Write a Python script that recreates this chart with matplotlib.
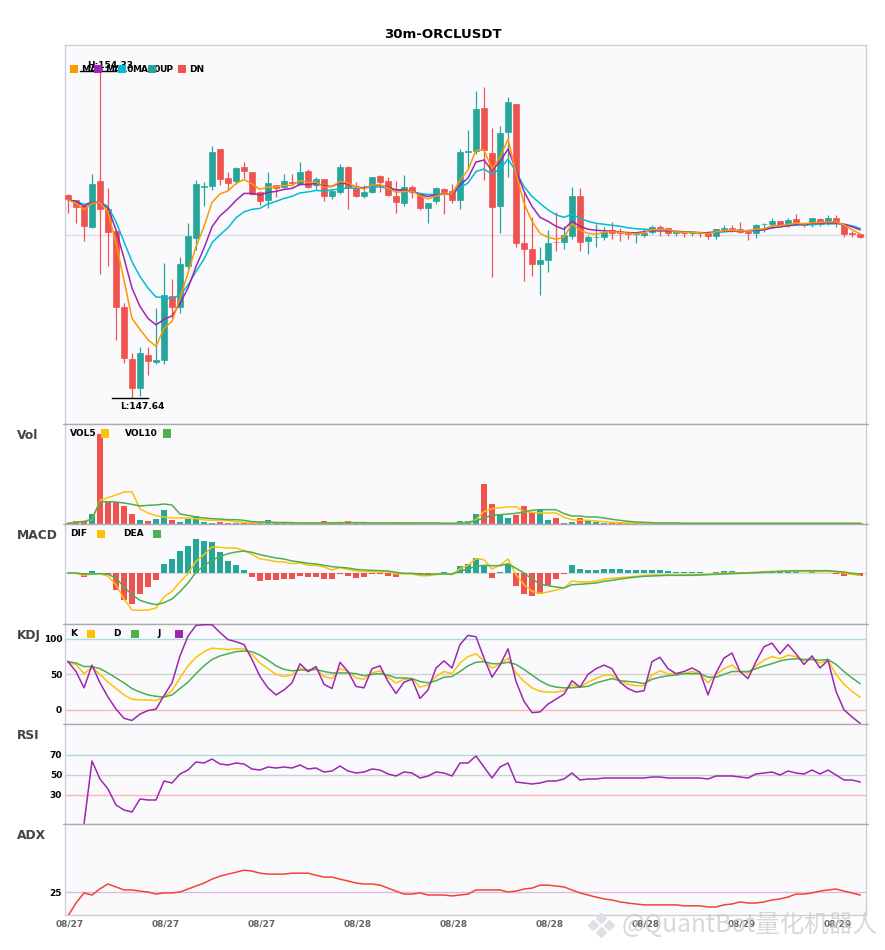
import matplotlib
matplotlib.use('Agg')
import matplotlib.pyplot as plt
from matplotlib.patches import Rectangle
from matplotlib.lines import Line2D
from matplotlib.transforms import ScaledTranslation

# candles
opens = [151.72,151.62,151.49,151.08,152.00,151.44,151.00,149.47,148.43,147.85,
         148.51,148.37,148.41,149.69,149.47,150.29,150.86,151.88,151.90,152.64,
         152.06,152.00,152.28,152.18,151.78,151.62,151.92,151.88,151.98,151.94,
         152.20,151.92,152.04,151.70,151.78,152.28,151.86,151.70,151.78,152.10,
         152.00,151.70,151.56,151.88,151.74,151.46,151.60,151.84,151.80,151.62,
         152.59,152.60,153.47,152.56,151.50,152.99,153.55,150.76,150.64,150.34,
         150.42,150.78,150.78,150.90,151.70,150.80,150.87,150.88,151.02,150.98,
         150.95,150.94,150.92,150.98,151.08,151.06,150.95,150.98,150.96,150.97,
         150.96,150.90,151.03,151.05,151.04,150.98,150.96,151.13,151.14,151.20,
         151.12,151.24,151.16,151.14,151.24,151.18,151.26,151.14,150.95,150.94]
closes = [151.64,151.47,151.10,151.94,151.44,150.98,149.47,148.45,147.85,148.55,
          148.39,148.41,149.71,149.47,150.33,150.90,151.94,151.90,152.58,152.04,
          151.96,152.26,152.20,151.74,151.60,151.96,151.86,152.00,151.96,152.18,
          151.88,152.04,151.70,151.79,152.28,151.86,151.70,151.78,152.08,151.98,
          151.72,151.58,151.88,151.78,151.46,151.56,151.86,151.78,151.62,152.58,
          152.60,153.45,152.62,151.48,152.97,153.59,150.76,150.64,150.34,150.42,
          150.76,150.77,150.92,151.70,150.78,150.88,150.88,150.98,150.96,150.96,
          150.93,150.95,150.96,151.08,151.06,150.96,150.97,150.95,150.98,150.95,
          150.90,151.04,151.05,151.04,150.98,150.96,151.12,151.14,151.20,151.10,
          151.22,151.18,151.12,151.26,151.14,151.26,151.16,150.94,150.94,150.88]
highs = [151.74,151.62,151.51,152.14,154.20,151.86,151.00,149.55,148.55,148.67,
         148.67,149.45,150.35,150.03,150.47,151.16,152.02,151.98,152.70,152.64,
         152.18,152.28,152.38,152.18,151.80,152.18,151.92,152.14,152.14,152.38,
         152.24,152.08,152.04,151.82,152.34,152.30,151.98,151.92,152.08,152.12,
         152.08,152.00,152.12,151.92,151.74,151.56,151.88,151.86,151.94,152.64,
         153.03,153.81,153.89,153.07,153.11,153.69,153.55,151.80,151.28,150.68,
         151.02,151.38,151.10,151.88,151.86,150.92,151.14,151.08,151.18,151.06,
         151.00,150.98,151.06,151.12,151.12,151.06,151.00,151.00,151.00,151.00,
         151.00,151.04,151.12,151.12,151.18,151.04,151.14,151.16,151.26,151.20,
         151.26,151.34,151.18,151.26,151.26,151.32,151.32,151.14,151.00,150.94]
lows = [151.36,151.16,150.80,151.06,150.13,150.29,148.81,148.35,147.64,147.69,
        148.11,148.33,148.33,149.21,149.35,150.23,150.62,151.50,151.82,151.92,
        151.82,151.94,152.06,151.72,151.52,151.46,151.68,151.86,151.90,151.92,
        151.86,151.84,151.60,151.64,151.74,151.44,151.68,151.66,151.76,151.78,
        151.70,151.36,151.50,151.66,151.42,151.16,151.54,151.34,151.56,151.44,
        152.26,152.54,152.02,150.08,150.96,152.08,150.68,150.00,150.10,149.71,
        150.18,150.60,150.64,150.84,150.60,150.54,150.68,150.82,150.84,150.80,
        150.84,150.76,150.88,150.94,150.90,150.90,150.90,150.88,150.90,150.87,
        150.84,150.84,150.98,150.98,150.96,150.82,150.86,150.98,151.08,151.08,
        151.08,151.14,151.08,151.08,151.10,151.12,151.08,150.88,150.88,150.86]

ma5 = [151.62,151.55,151.42,151.55,151.57,151.38,150.75,150.01,149.24,149.02,
       148.81,148.68,149.04,149.18,149.65,150.15,150.68,151.08,151.57,151.74,
       151.80,151.95,152.03,151.94,151.83,151.88,151.88,151.91,151.91,152.01,
       151.97,151.98,151.87,151.89,151.99,151.96,151.88,151.84,151.92,151.92,
       151.86,151.77,151.79,151.80,151.70,151.64,151.70,151.74,151.74,152.02,
       152.22,152.62,152.62,152.24,152.48,152.84,152.16,151.55,151.19,150.95,
       150.87,150.83,150.87,151.14,151.01,150.95,150.93,150.97,150.98,150.97,
       150.95,150.94,150.96,151.02,151.02,151.02,150.98,150.97,150.97,150.96,
       150.94,150.98,151.00,151.01,151.00,151.00,151.03,151.04,151.10,151.10,
       151.13,151.15,151.14,151.16,151.17,151.18,151.18,151.12,151.02,150.94]
ma10 = [151.62,151.59,151.49,151.57,151.57,151.45,151.02,150.45,149.85,149.48,
        149.24,149.11,149.22,149.29,149.54,149.85,150.28,150.65,151.08,151.30,
        151.44,151.61,151.75,151.75,151.72,151.77,151.79,151.83,151.85,151.93,
        151.93,151.95,151.90,151.89,151.96,151.94,151.88,151.86,151.91,151.91,
        151.88,151.82,151.82,151.80,151.72,151.69,151.72,151.74,151.73,151.92,
        152.06,152.38,152.42,152.21,152.39,152.64,152.22,151.79,151.49,151.27,
        151.19,151.09,151.03,151.19,151.09,151.03,151.01,151.00,150.99,150.98,
        150.96,150.96,150.98,151.00,151.00,151.00,150.99,150.98,150.97,150.96,
        150.96,150.98,150.99,151.00,151.00,151.00,151.01,151.02,151.06,151.08,
        151.10,151.13,151.13,151.15,151.16,151.16,151.16,151.13,151.08,151.02]
ma20 = [151.62,151.59,151.53,151.57,151.57,151.49,151.18,150.78,150.38,150.08,
        149.85,149.67,149.66,149.64,149.71,149.91,150.18,150.43,150.76,150.92,
        151.06,151.26,151.38,151.43,151.45,151.54,151.59,151.65,151.69,151.76,
        151.78,151.81,151.80,151.82,151.84,151.86,151.85,151.86,151.88,151.88,
        151.85,151.82,151.81,151.79,151.75,151.73,151.73,151.74,151.74,151.86,
        151.96,152.19,152.24,152.14,152.24,152.44,152.19,151.89,151.69,151.55,
        151.42,151.32,151.27,151.33,151.25,151.19,151.15,151.13,151.11,151.09,
        151.06,151.04,151.03,151.02,151.00,151.00,150.98,150.97,150.97,150.96,
        150.96,150.97,150.98,150.99,151.00,151.00,151.00,151.02,151.06,151.08,
        151.10,151.11,151.12,151.12,151.13,151.14,151.14,151.13,151.10,151.05]

# volume has no scale on the chart, so relative units
vol = [3,10,10,31,271,70,65,55,31,13,10,16,43,13,7,16,23,7,4,7,
       4,2,2,2,2,13,2,3,2,3,2,2,10,2,7,10,3,2,2,2,
       2,7,2,2,2,2,2,2,2,10,10,31,121,61,28,19,28,55,37,43,
       13,19,4,7,19,10,7,4,3,2,2,2,2,2,2,2,2,1,2,1,
       2,2,2,1,2,1,2,2,2,2,1,2,2,2,2,1,2,2,1,2]
vol5 = [2,6,8,13,71,79,87,96,97,45,33,25,21,18,18,18,16,12,11,11,
        10,7,5,3,4,5,5,5,4,3,3,3,3,4,5,5,4,4,3,2,
        2,3,3,3,2,2,2,2,2,3,5,13,38,46,49,51,52,37,35,33,
        33,33,20,13,11,11,9,7,5,4,3,3,2,2,2,2,2,2,2,2,
        2,2,2,2,2,2,2,2,2,2,2,2,2,2,2,2,2,2,2,2]
vol10 = [2,5,7,15,67,67,66,63,59,54,56,57,60,57,30,26,21,18,16,15,
         13,13,11,7,6,6,4,4,4,3,3,3,3,3,3,4,4,4,3,3,
         3,3,3,3,3,3,3,2,2,2,4,10,18,26,28,30,32,36,41,43,
         43,43,31,24,24,21,21,18,14,11,8,6,5,4,3,3,3,2,2,2,
         2,2,2,2,2,2,2,2,2,2,2,2,2,2,2,2,2,2,2,2]

dif = [0,-1,-7,-3,-2,-10,-35,-78,-111,-112,-111,-105,-72,-55,-27,-2,35,55,78,77,
       75,75,67,56,42,39,34,33,28,30,23,23,18,9,16,11,6,4,4,3,
       4,-3,-2,-3,-8,-8,-5,-3,-5,13,23,43,40,12,24,42,-5,-35,-55,-61,
       -57,-51,-45,-24,-27,-27,-24,-18,-16,-14,-12,-10,-8,-6,-6,-6,-6,-6,-5,-5,
       -4,-2,-1,0,0,1,2,4,5,5,5,5,4,4,4,4,3,0,-4,-7]
dea = [0,0,-3,-3,-2,-4,-15,-42,-65,-82,-90,-95,-89,-78,-56,-30,2,22,38,50,
       58,63,66,62,55,50,45,42,36,33,29,27,23,19,17,15,11,9,8,7,
       6,2,-1,-1,-3,-5,-3,-3,-3,5,12,20,23,22,22,28,14,0,-18,-33,
       -38,-42,-45,-35,-34,-32,-30,-25,-22,-18,-15,-12,-10,-9,-8,-7,-7,-7,-7,-6,
       -5,-4,-3,-2,-1,0,1,2,3,5,6,7,7,7,7,7,5,3,-1,-3]
macd_hist = [0,-2,-12,7,-1,-7,-50,-80,-92,-62,-41,-20,28,43,67,82,103,97,94,64,
             37,25,10,-11,-23,-20,-20,-17,-17,-8,-13,-11,-17,-17,-2,-8,-14,-11,-2,-2,
             -8,-11,0,0,-6,-6,0,3,1,22,28,46,25,-14,3,28,-38,-62,-68,-62,
             -35,-17,-2,25,13,10,10,13,13,13,10,10,10,10,10,7,4,4,4,4,
             0,4,7,7,4,1,1,7,3,2,2,3,1,3,1,1,-3,-8,-7,-8]

k = [67,64,51,60,50,39,30,21,15,14,14,13,18,27,45,62,74,82,87,86,
     85,86,86,78,66,58,50,47,49,59,54,58,47,44,58,54,45,43,52,55,
     46,38,43,44,32,35,47,54,51,66,75,79,69,59,64,73,52,40,31,26,
     25,25,27,35,32,39,44,49,49,41,36,34,34,49,55,51,51,51,54,51,
     38,50,58,63,54,52,62,70,75,72,77,75,69,72,66,70,50,36,26,18]
d = [68,66,61,61,58,52,45,38,30,25,21,19,18,21,30,39,51,62,71,76,
     79,82,83,82,77,70,62,57,55,56,56,57,54,52,52,52,51,48,50,51,
     49,45,45,44,40,38,41,46,47,54,62,67,68,65,65,67,64,57,49,41,
     35,32,31,31,32,33,38,41,44,41,40,39,37,43,46,48,49,51,51,51,
     46,46,50,54,54,54,58,62,65,69,71,72,71,71,70,71,64,54,45,37]
j = [68,54,31,63,38,18,1,-12,-15,-6,-1,1,20,38,76,104,119,120,120,109,
     99,96,92,71,47,31,21,28,38,65,54,61,36,30,67,54,33,31,58,62,
     40,23,39,43,16,28,59,69,59,92,105,103,73,46,63,86,40,12,-4,-3,
     8,15,22,41,32,50,58,63,58,39,30,25,27,68,74,58,51,54,59,53,
     21,52,73,80,54,44,68,89,94,79,92,79,64,76,59,70,26,0,-10,-19]

rsi = [float('nan'),float('nan'),1,64,46,36,20,15,13,26,25,25,44,42,51,55,63,62,66,61,
       60,62,61,56,55,58,57,58,57,60,56,57,53,54,59,54,52,53,56,55,
       51,49,53,52,47,49,53,52,49,62,62,69,58,47,58,62,43,42,41,42,
       44,44,46,52,45,46,46,47,47,47,47,47,47,48,48,47,47,47,47,47,
       46,49,49,49,48,47,51,52,53,50,54,52,51,55,51,55,50,45,45,43]
adx = [14.6,20.2,24.6,23.7,26.4,28.5,27.2,25.9,25.9,25.4,25,24.1,24.6,24.6,25,26.3,27.6,28.9,30.6,31.9,
       32.8,33.6,34.5,34.1,33.2,32.8,32.8,32.8,33.2,33.2,33.2,32.3,31.5,31.5,30.6,29.8,28.9,28.5,28.5,28,
       26.7,25.4,24.1,24.1,24.6,23.7,23.7,23.7,23.3,23.7,24.1,25.9,25.9,25.9,25.9,25,25.4,26.3,26.7,28,
       28,27.6,27.2,25.9,24.6,23.7,22.8,22,21.5,20.7,20.2,19.8,19.4,19.4,19.4,19.4,19.4,19,19,19,
       18.5,18.5,19.4,19.8,20.7,20.2,20.2,20.7,21.5,22,22.8,24.1,24.1,24.6,25.4,25.9,26.3,25.4,24.6,23.7]

xtick_pos = [0,12,24,36,48,60,72,84,96]
xtick_labels = ['08/27','08/27','08/27','08/28','08/28','08/28','08/28','08/29','08/29']

W, H = 885, 950
TEAL = '#26A69A'
RED = '#EF5350'
ORANGE = '#FF9800'
PURPLE = '#9C27B0'
CYAN = '#00BCD4'
YELLOW = '#FFC107'
GREEN = '#4CAF50'
BG = '#fafafd'
EDGE = '#cdcddb'
SEP = '#aaaaaf'
LW = 1.1

xs = list(range(len(opens)))
fig = plt.figure(figsize=(W/100, H/100), dpi=100)


def make_axes(top, bottom, ylim):
    ax = fig.add_axes([65/W, 1-bottom/H, 801/W, (bottom-top)/H])
    ax.set_facecolor(BG)
    ax.set_xlim(-0.375, 99.75)
    ax.set_ylim(*ylim)
    ax.set_xticks([])
    ax.set_yticks([])
    for s in ax.spines.values():
        s.set_color(EDGE)
        s.set_linewidth(1)
    ax.spines['top'].set_color(SEP)
    ax.tick_params(axis='y', length=0, pad=2)
    return ax


def px_text(x, y, s, **kw):
    kw.setdefault('fontweight', 'bold')
    kw.setdefault('va', 'center')
    fig.text(x/W, 1-y/H, s, **kw)


def px_square(x, y, color, zorder):
    fig.add_artist(Rectangle((x/W, 1-(y+8)/H), 8/W, 8/H, transform=fig.transFigure,
                             facecolor=color, edgecolor='none', zorder=zorder))


def set_ticks(ax, vals):
    ax.set_yticks(vals)
    ax.set_yticklabels([str(v) for v in vals], fontsize=6.5, fontweight='bold', color='black')


ax_main = make_axes(45, 424, (147.12, 154.73))
ax_main.spines['top'].set_color(EDGE)
ax_vol = make_axes(424, 524, (0, 300))
ax_macd = make_axes(524, 624, (-153, 147))
ax_kdj = make_axes(624, 724, (-20, 121))
ax_rsi = make_axes(724, 824, (1, 101))
ax_adx = make_axes(824, 915, (15, 54.6))

# main candles
ax_main.axhline(150.925, color='#dcdce6', lw=1, zorder=1)
for i in xs:
    col = TEAL if closes[i] >= opens[i] else RED
    ax_main.vlines(i, lows[i], highs[i], color=col, lw=0.9, zorder=2)
    ax_main.bar(i, abs(closes[i]-opens[i]), bottom=min(opens[i], closes[i]), width=0.75,
                color=col, edgecolor=col, linewidth=0.5, zorder=3)
ax_main.plot(xs, ma20, color=CYAN, lw=LW, zorder=4)
ax_main.plot(xs, ma10, color=PURPLE, lw=LW, zorder=5)
ax_main.plot(xs, ma5, color=ORANGE, lw=LW, zorder=6)

# high and low marks
hi = highs.index(max(highs))
lo = lows.index(min(lows))
ax_main.plot([hi-2.5, hi+2], [highs[hi], highs[hi]], color='black', lw=1, zorder=7)
ax_main.plot([lo-2.5, lo+2], [lows[lo], lows[lo]], color='black', lw=1, zorder=7)
ax_main.annotate('H:154.33', (hi, highs[hi]), xytext=(10, 1), textcoords='offset pixels', ha='center', va='bottom',
                 fontsize=6.5, fontweight='bold', zorder=7)
ax_main.annotate('L:147.64', (lo, lows[lo]), xytext=(10, -4), textcoords='offset pixels', ha='center', va='top',
                 fontsize=6.5, fontweight='bold', zorder=7)

# volume
for i in xs:
    ax_vol.bar(i, vol[i], width=0.75, color=TEAL if closes[i] >= opens[i] else RED, zorder=2)
ax_vol.plot(xs, vol5, color=YELLOW, lw=LW, zorder=3)
ax_vol.plot(xs, vol10, color=GREEN, lw=LW, zorder=4)

# macd
ax_macd.axhline(0, color='#dcdce0', lw=1, zorder=1)
ax_macd.bar(xs, macd_hist, width=0.75, color=[TEAL if v > 0 else RED for v in macd_hist], zorder=2)
ax_macd.plot(xs, dif, color=YELLOW, lw=LW, zorder=3)
ax_macd.plot(xs, dea, color=GREEN, lw=LW, zorder=4)

# kdj
ax_kdj.axhline(100, color='#a9dfda', lw=1, zorder=1)
ax_kdj.axhline(50, color='#d0d0d4', lw=1, zorder=1)
ax_kdj.axhline(0, color='#ffb4b4', lw=1, zorder=1)
ax_kdj.plot(xs, k, color=YELLOW, lw=LW, zorder=3)
ax_kdj.plot(xs, d, color=GREEN, lw=LW, zorder=4)
ax_kdj.plot(xs, j, color=PURPLE, lw=LW, zorder=5)
set_ticks(ax_kdj, [0, 50, 100])

# rsi
ax_rsi.axhline(70, color='#a9dfda', lw=1, zorder=1)
ax_rsi.axhline(50, color='#d0d0d4', lw=1, zorder=1)
ax_rsi.axhline(30, color='#ffb4b4', lw=1, zorder=1)
ax_rsi.plot(xs, rsi, color=PURPLE, lw=LW, zorder=3)
set_ticks(ax_rsi, [30, 50, 70])

# adx
ax_adx.axhline(25, color='#dcb9e4', lw=1, zorder=1)
ax_adx.plot(xs, adx, color='#F44336', lw=LW, zorder=3)
set_ticks(ax_adx, [25])
ax_adx.set_xticks(xtick_pos)
ax_adx.set_xticklabels(xtick_labels, fontsize=6.5, fontweight='bold', color='#666666')
ax_adx.tick_params(axis='x', length=0, pad=3)
nudge = ScaledTranslation(2/100, 0, fig.dpi_scale_trans)
for lab in ax_adx.get_xticklabels():
    lab.set_transform(lab.get_transform() + nudge)

# little ticks where the panels meet
for y in [424, 524, 624, 724, 824]:
    fig.add_artist(Line2D([63/W, 65/W], [1-y/H, 1-y/H], color=SEP, lw=0.8))
    fig.add_artist(Line2D([866/W, 868/W], [1-y/H, 1-y/H], color=SEP, lw=0.8))

# title and panel names
px_text(443, 34.5, '30m-ORCLUSDT', fontsize=9.5, ha='center')
for name, y in [('Vol', 435.5), ('MACD', 535.5), ('KDJ', 635.5), ('RSI', 735.5), ('ADX', 835.5)]:
    px_text(17, y, name, fontsize=8.8, color='#444444')

# legends, later ones sit over the earlier ones
legend_main = [(70, ORANGE, 81, 'MA5'), (94, PURPLE, 105, 'MA10'), (118, CYAN, 132, 'MA20'),
               (148, TEAL, 159, 'UP'), (178, RED, 189, 'DN')]
z = 10
for sx, col, tx, label in legend_main:
    px_square(sx, 65, col, z)
    fig.text(tx/W, 1-69/H, label, fontsize=6.5, fontweight='bold', va='center', zorder=z+1)
    z += 2
for items, y in [([(70, 'VOL5', 101, YELLOW), (125, 'VOL10', 163, GREEN)], 433.5),
                 ([(70, 'DIF', 97, YELLOW), (123, 'DEA', 153, GREEN)], 534),
                 ([(70, 'K', 87, YELLOW), (113, 'D', 131, GREEN), (157, 'J', 175, PURPLE)], 633.5)]:
    for tx, label, sx, col in items:
        px_text(tx, y, label, fontsize=6.5, zorder=20)
        px_square(sx, y-4, col, 20)

# watermark
for mx, my in [(601, 918), (593, 925), (609, 925), (601, 932)]:
    fig.add_artist(Line2D([mx/W], [1-my/H], marker='D', markersize=5, color='#e0e0e4',
                          transform=fig.transFigure, zorder=30))
fig.text(622/W, 1-925/H, '@QuantBot量化机器人', fontsize=17.6, color='#c8c8cc', alpha=0.7, va='center',
         family=['Noto Sans CJK SC', 'DejaVu Sans'], zorder=30)

plt.savefig('out.png', dpi=100, facecolor='white')
